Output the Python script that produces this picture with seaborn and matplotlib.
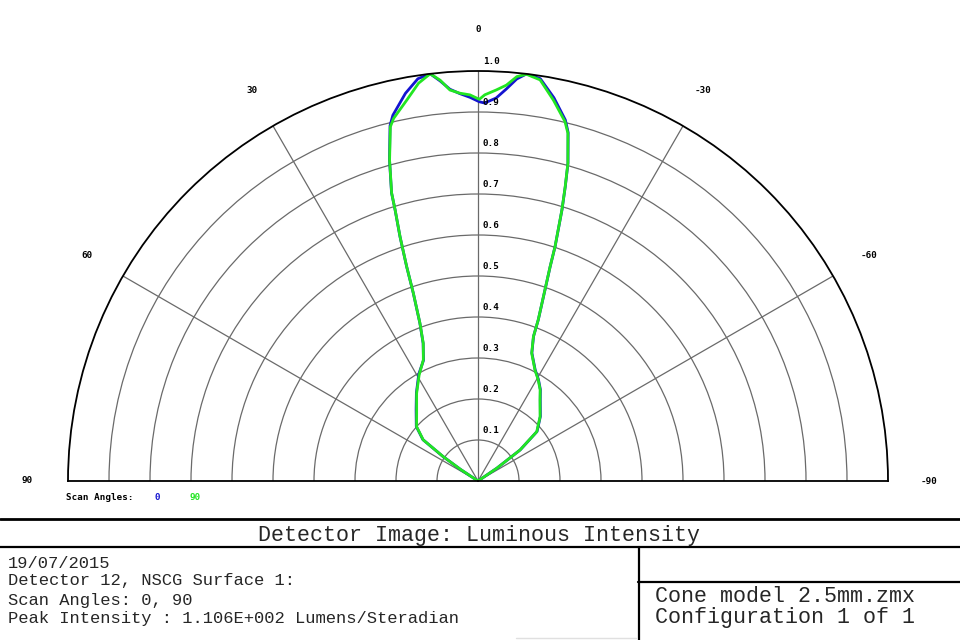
import numpy as np
import pandas as pd
import matplotlib
matplotlib.use("Agg")
import matplotlib.pyplot as plt
from matplotlib.lines import Line2D
import seaborn as sns

# ---- data (angle in degrees, positive = left; normalised intensity) ----
theta_deg = [60, 56.5, 55.0, 53.1, 48.5, 40.8, 35.0, 29.0, 24.3, 21.7, 20.2, 19.0, 18.4,
             17.7, 17.0, 16.7, 15.4, 13.9, 13.1, 10.6, 8.5, 6.7, 5.4, 4.1, 2.7, 1.2,
             -0.2, -1.0, -2.7, -4.1, -5.5, -6.8, -8.8, -11.2, -13.6, -14.5, -15.8,
             -16.5, -17.2, -18.2, -18.6, -19.3, -20.5, -21.0, -22.8, -27.2, -30.8,
             -34.3, -37.4, -44.0, -50.0, -53.6, -55.8, -60]
green_r = [0.0, 0.05, 0.103, 0.167, 0.200, 0.229, 0.261, 0.296, 0.324, 0.361, 0.410, 0.484, 0.551,
           0.625, 0.691, 0.733, 0.812, 0.890, 0.908, 0.945, 0.981, 1.0, 0.982, 0.956, 0.947, 0.942,
           0.931, 0.942, 0.955, 0.968, 0.991, 0.999, 0.990, 0.947, 0.902, 0.876, 0.805,
           0.749, 0.692, 0.601, 0.551, 0.494, 0.419, 0.377, 0.338, 0.304, 0.287,
           0.269, 0.249, 0.218, 0.187, 0.127, 0.055, 0.0]
blue_r = [0.0, 0.052, 0.105, 0.168, 0.201, 0.231, 0.262, 0.298, 0.323, 0.362, 0.411, 0.485, 0.552,
          0.626, 0.692, 0.734, 0.813, 0.893, 0.916, 0.962, 0.992, 1.0, 0.980, 0.958, 0.946, 0.936,
          0.925, 0.922, 0.935, 0.958, 0.985, 1.0, 0.993, 0.953, 0.906, 0.878, 0.806,
          0.750, 0.693, 0.602, 0.552, 0.495, 0.420, 0.378, 0.339, 0.305, 0.288,
          0.270, 0.250, 0.219, 0.188, 0.128, 0.056, 0.0]
scan_angles = ["0", "90"]
line_colors = ["#1414d0", "#22e622"]
ring_values = [0.1, 0.2, 0.3, 0.4, 0.5, 0.6, 0.7, 0.8, 0.9, 1.0]
angle_ticks = [90, 60, 30, 0, -30, -60, -90]

title = "Detector Image: Luminous Intensity"
info_lines = ["19/07/2015", "Detector 12, NSCG Surface 1:", "Scan Angles: 0, 90",
              "Peak Intensity : 1.106E+002 Lumens/Steradian"]
file_lines = ["Cone model 2.5mm.zmx", "Configuration 1 of 1"]

df = pd.DataFrame({
    "theta": np.deg2rad(theta_deg * 2),
    "r": blue_r + green_r,
    "scan": [scan_angles[0]] * len(theta_deg) + [scan_angles[1]] * len(theta_deg),
})

sns.set_style("white")
plt.rcParams["font.family"] = ["DejaVu Sans"]

fig = plt.figure(figsize=(9.6, 6.4), dpi=100)
W, H = 960, 640
cx, cy, R = 478, 481, 410
# square box centred on the middle of the half-disc; the wedge fills its middle band
wedge_mid = cy - R / 2
ax = fig.add_axes([(cx - R) / W, (H - (wedge_mid + R)) / H, 2 * R / W, 2 * R / H], projection="polar")
ax.set_theta_zero_location("N")
ax.set_theta_direction(1)
ax.set_thetamin(-90)
ax.set_thetamax(90)
ax.set_rlim(0, 1)

sns.lineplot(data=df, x="theta", y="r", hue="scan", palette=dict(zip(scan_angles, line_colors)),
             sort=False, estimator=None, legend=False, ax=ax, linewidth=2.0)

ax.set_thetagrids(angle_ticks, labels=[""] * len(angle_ticks))
ax.set_rgrids(ring_values[:-1], labels=[""] * (len(ring_values) - 1))
ax.grid(True, color="#6a6a6a", linewidth=0.9)
ax.set_xlabel("")
ax.set_ylabel("")
for name, sp in ax.spines.items():
    sp.set_color("black")
    sp.set_linewidth(1.3)

lab_font = dict(family="DejaVu Sans Mono", fontsize=6.7, fontweight="bold", color="black")
for a in angle_ticks:
    ax.text(np.deg2rad(a), 1.1, str(a), ha="center", va="center", **lab_font)
for rv in ring_values:
    ax.annotate(f"{rv:.1f}", xy=(0, rv), xytext=(3.5, 6.5), textcoords="offset points",
                ha="left", va="center", annotation_clip=False, **lab_font)

# legend row
fig.text(66 / W, 1 - 498 / H, "Scan Angles:", ha="left", va="center", **lab_font)
fig.text(157 / W, 1 - 498 / H, scan_angles[0], ha="center", va="center",
         family="DejaVu Sans Mono", fontsize=6.7, fontweight="bold", color=line_colors[0])
fig.text(195 / W, 1 - 498 / H, scan_angles[1], ha="center", va="center",
         family="DejaVu Sans Mono", fontsize=6.7, fontweight="bold", color=line_colors[1])

# bottom frame
def hline(y, x0, x1, lw=2.0, color="black"):
    fig.add_artist(Line2D([x0 / W, x1 / W], [1 - y / H, 1 - y / H], transform=fig.transFigure,
                          color=color, linewidth=lw))

hline(519, 0, 960, lw=2.0)
hline(547, 0, 960, lw=1.6)
hline(582, 638, 960, lw=1.6)
hline(638, 516, 636, lw=1.0, color="#e0e0e0")
fig.add_artist(Line2D([639 / W, 639 / W], [1 - 547 / H, 0], transform=fig.transFigure,
                      color="black", linewidth=1.6))

mono = "Liberation Mono"
fig.text(479 / W, 1 - 535 / H, title, ha="center", va="center", family=mono, fontsize=15.6)
for t, y in zip(info_lines, [563, 580, 600, 618]):
    fig.text(8 / W, 1 - y / H, t, ha="left", va="center", family=mono, fontsize=12.3)
for t, y in zip(file_lines, [597, 617]):
    fig.text(655 / W, 1 - y / H, t, ha="left", va="center", family=mono, fontsize=15.6)

fig.savefig("out.png", dpi=100)
